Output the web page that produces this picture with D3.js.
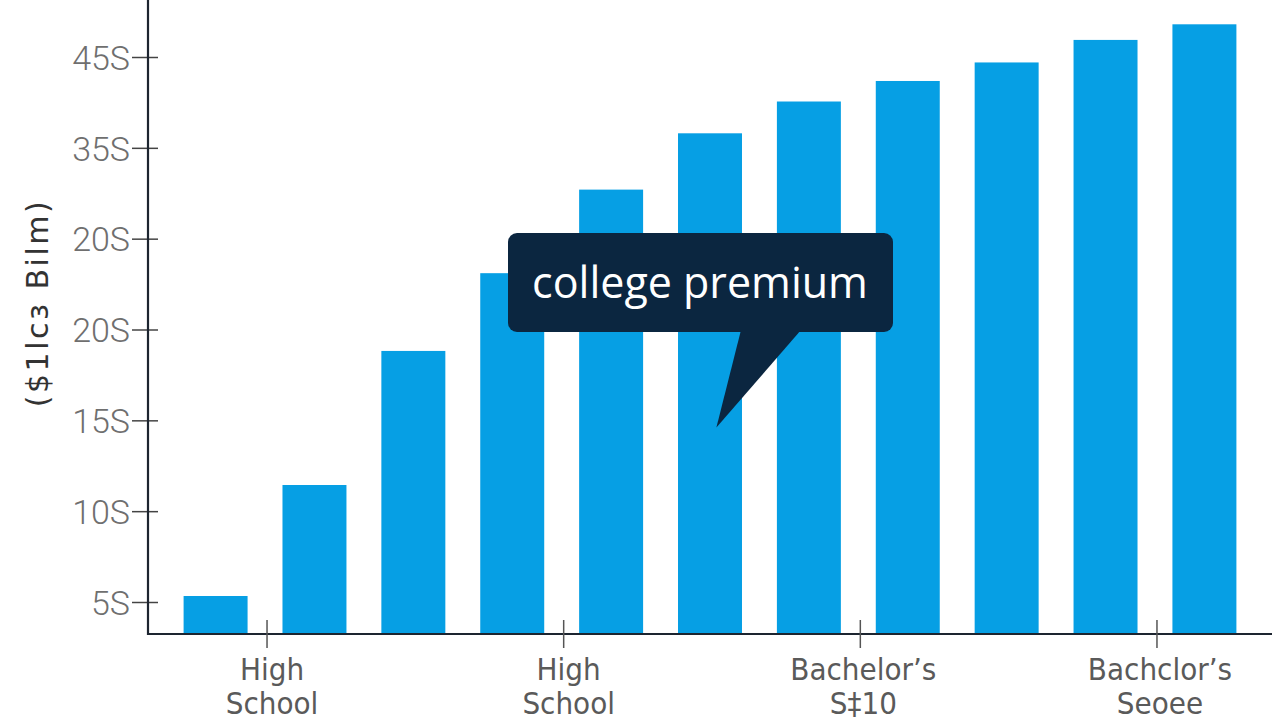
<!DOCTYPE html>
<html>
<head>
<meta charset="utf-8">
<script src="https://cdn.jsdelivr.net/npm/d3@7"></script>
<style>
  html, body { margin: 0; padding: 0; background: #fff; }
  svg { display: block; }
  .ytick text { font-family: Roboto, "Liberation Sans", sans-serif; font-weight: 300; font-size: 34px; fill: #6f6f6f; }
  .xlabel { font-family: "Liberation Sans Narrow", "DejaVu Sans Condensed", sans-serif; font-weight: 300; font-size: 31px; fill: #5a5a5a; }
  .ylabel { font-family: "DejaVu Sans", sans-serif; font-size: 30px; fill: #333; letter-spacing: 2.5px; }
  .callout text { font-family: "Open Sans", Lato, sans-serif; font-size: 43px; fill: #fff; }
</style>
</head>
<body>
<div id="chart"></div>
<script>
// data
const categories = ["b1", "b2", "b3", "b4", "b5", "b6", "b7", "b8", "b9", "b10", "b11"];
const values = [5.33, 11.44, 18.82, 23.1, 27.7, 30.8, 32.55, 33.68, 34.7, 35.94, 36.8];

const yTickValues = [5, 10, 15, 20, 25, 30, 35];
const yTickLabels = ["5S", "10S", "15S", "20S", "20S", "35S", "45S"];

// x labels sit on the gap after these bars
const xTickAfter = ["b1", "b4", "b7", "b10"];
const xTickLabels = [["High", "School"], ["High", "School"], ["Bachelor\u2019s", "S\u202110"], ["Bachclor\u2019s", "Seoee"]];

const yAxisTitle = "($1lc\u025c Bilm)";
const calloutText = "college premium";
const calloutBar = "b6";
const calloutValue = 14.6;

const width = 1280;
const height = 720;
const axisX = 148;
const axisY = 634;
const barColor = "#069fe4";

const svg = d3.select("#chart")
  .append("svg")
    .attr("width", width)
    .attr("height", height);

// scales
const x = d3.scaleBand()
  .domain(categories)
  .range([axisX, 1272])
  .paddingInner(0.353)
  .paddingOuter(0.36);

const y = d3.scaleLinear()
  .domain([5, 35])
  .range([602, 57]);

// bars
svg.append("g")
  .selectAll(".bar")
  .data(categories)
  .enter()
  .append("rect")
    .attr("class", "bar")
    .attr("x", d => x(d))
    .attr("width", x.bandwidth())
    .attr("y", (d, i) => y(values[i]))
    .attr("height", (d, i) => axisY - y(values[i]))
    .style("fill", barColor);

// y axis
const yAxis = d3.axisLeft(y)
  .tickValues(yTickValues)
  .tickFormat((d, i) => yTickLabels[i])
  .tickSize(16)
  .tickPadding(2);

const yg = svg.append("g")
  .attr("class", "ytick")
  .attr("transform", `translate(${axisX},0)`)
  .call(yAxis);

yg.select(".domain").remove();
yg.selectAll(".tick line")
  .attr("x1", 10)
  .attr("x2", -16)
  .style("stroke", "#444")
  .style("stroke-width", 1.5);
yg.selectAll(".tick text").attr("dy", "0.36em");

svg.append("line")
  .attr("x1", axisX).attr("x2", axisX)
  .attr("y1", 0).attr("y2", axisY + 1)
  .style("stroke", "#1d2530")
  .style("stroke-width", 2.2);

svg.append("line")
  .attr("x1", axisX - 1).attr("x2", 1272)
  .attr("y1", axisY).attr("y2", axisY)
  .style("stroke", "#1d2530")
  .style("stroke-width", 2.2);

// x ticks between bars
const gapX = (d) => x(d) + x.bandwidth() + x.step() * x.paddingInner() / 2 + 2;

const xt = svg.append("g")
  .selectAll(".xtick")
  .data(xTickAfter)
  .enter()
  .append("g")
    .attr("class", "xtick")
    .attr("transform", d => `translate(${gapX(d)},0)`);

xt.append("line")
  .attr("y1", axisY - 14)
  .attr("y2", axisY + 14)
  .style("stroke", "#555")
  .style("stroke-width", 1.5);

xt.each(function(d, i) {
  const t = d3.select(this).append("text")
    .attr("class", "xlabel")
    .attr("text-anchor", "middle");
  xTickLabels[i].forEach((line, j) => {
    t.append("tspan")
      .attr("x", i < 2 ? 5 : 3)
      .attr("y", 680 + j * 34)
      .text(line);
  });
});

// y axis title
svg.append("text")
  .attr("class", "ylabel")
  .attr("text-anchor", "middle")
  .attr("transform", "translate(48,303)rotate(-90)")
  .text(yAxisTitle);

// callout
const tipX = x(calloutBar) + x.bandwidth() * 0.6;
const tipY = y(calloutValue);
const callout = svg.append("g").attr("class", "callout");

callout.append("rect")
  .attr("x", 508)
  .attr("y", 233)
  .attr("width", 385)
  .attr("height", 99)
  .attr("rx", 9)
  .style("fill", "#0b2640");

callout.append("path")
  .attr("d", d3.line()([[741, 330], [801, 330], [tipX, tipY]]) + "Z")
  .style("fill", "#0b2640");

callout.append("text")
  .attr("x", 700)
  .attr("y", 298)
  .attr("text-anchor", "middle")
  .text(calloutText);
</script>
</body>
</html>
